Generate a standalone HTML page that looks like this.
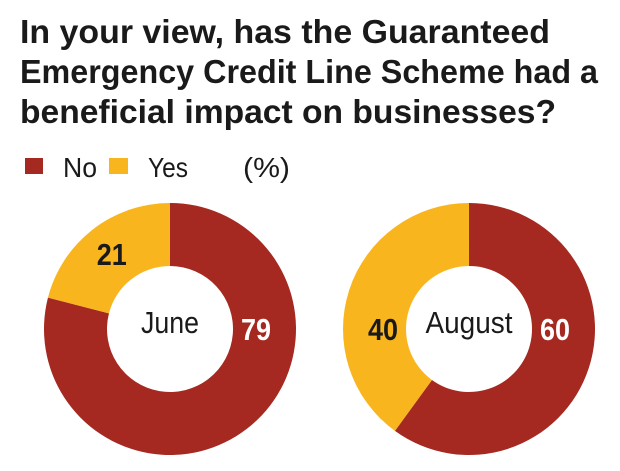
<!DOCTYPE html>
<html><head><meta charset="utf-8"><style>
html,body{margin:0;padding:0;background:#fff;}
svg{display:block;font-family:"Liberation Sans",sans-serif;}
</style></head><body>
<svg width="620" height="471" viewBox="0 0 620 471">
<g font-weight="bold" font-size="33" fill="#1a1a1a">
<text x="20" y="43" textLength="530" lengthAdjust="spacingAndGlyphs">In your view, has the Guaranteed</text>
<text x="20" y="83" textLength="578" lengthAdjust="spacingAndGlyphs">Emergency Credit Line Scheme had a</text>
<text x="20" y="123" textLength="536" lengthAdjust="spacingAndGlyphs">beneficial impact on businesses?</text>
</g>
<g font-size="28" fill="#1a1a1a">
<rect x="25" y="158" width="18" height="16" fill="#a52920"/>
<text x="63" y="177" textLength="34" lengthAdjust="spacingAndGlyphs">No</text>
<rect x="109" y="158" width="19" height="16" fill="#f8b51e"/>
<text x="148" y="177" textLength="40" lengthAdjust="spacingAndGlyphs">Yes</text>
<text x="243" y="177" textLength="47" lengthAdjust="spacingAndGlyphs">(%)</text>
</g>
<g id="donuts"></g>
</svg>
<script>
const months = ["June", "August"];
const noValues = [79, 60];
const yesValues = [21, 40];

const svgNS = "http://www.w3.org/2000/svg";
const root = document.getElementById("donuts");
const centers = [[170, 329], [469, 329]];
const R = 126, r = 63;
const colors = {no: "#a52920", yes: "#f8b51e"};

function pt(cx, cy, rad, frac) {
  const a = frac * 2 * Math.PI - Math.PI / 2;
  return [cx + rad * Math.cos(a), cy + rad * Math.sin(a)];
}
function arcPath(cx, cy, f0, f1) {
  const large = (f1 - f0) > 0.5 ? 1 : 0;
  const [x0, y0] = pt(cx, cy, R, f0), [x1, y1] = pt(cx, cy, R, f1);
  const [x2, y2] = pt(cx, cy, r, f1), [x3, y3] = pt(cx, cy, r, f0);
  return `M${x0},${y0}A${R},${R} 0 ${large} 1 ${x1},${y1}L${x2},${y2}A${r},${r} 0 ${large} 0 ${x3},${y3}Z`;
}
function label(cx, cy, f0, f1, val, fill, name, side) {
  let x, y;
  if (f1 - f0 > 0.3) { x = cx + side * 86; y = cy; }
  else { [x, y] = pt(cx, cy, 95, (f0 + f1) / 2); }
  const t = document.createElementNS(svgNS, "text");
  
  
  t.setAttribute("x", x); t.setAttribute("y", y + 11);
  t.setAttribute("text-anchor", "middle");
  t.setAttribute("font-size", "31");
  t.setAttribute("font-weight", "bold");
  t.setAttribute("fill", fill);
  t.setAttribute("textLength", String(val).length * 15);
  t.setAttribute("lengthAdjust", "spacingAndGlyphs");
  t.textContent = val;
  root.appendChild(t);
}
months.forEach((m, i) => {
  const [cx, cy] = centers[i];
  const total = noValues[i] + yesValues[i];
  const fNo = noValues[i] / total;
  const g = document.createElementNS(svgNS, "g");
  
  
  root.appendChild(g);
  const p1 = document.createElementNS(svgNS, "path");
  
  
  p1.setAttribute("d", arcPath(cx, cy, 0, fNo));
  p1.setAttribute("fill", colors.no);
  g.appendChild(p1);
  const p2 = document.createElementNS(svgNS, "path");
  
  
  p2.setAttribute("d", arcPath(cx, cy, fNo, 0.99999));
  p2.setAttribute("fill", colors.yes);
  g.appendChild(p2);
  const c = document.createElementNS(svgNS, "text");
  
  
  c.setAttribute("x", cx); c.setAttribute("y", cy + 4);
  c.setAttribute("text-anchor", "middle");
  c.setAttribute("font-size", "31");
  c.setAttribute("fill", "#1a1a1a");
  c.setAttribute("textLength", m.length * 14.5);
  c.setAttribute("lengthAdjust", "spacingAndGlyphs");
  c.textContent = m;
  root.appendChild(c);
  label(cx, cy, 0, fNo, noValues[i], "#fff", 'value-no-' + m.toLowerCase(), 1);
  label(cx, cy, fNo, 1, yesValues[i], "#1a1a1a", 'value-yes-' + m.toLowerCase(), -1);
});
</script>
</body></html>
